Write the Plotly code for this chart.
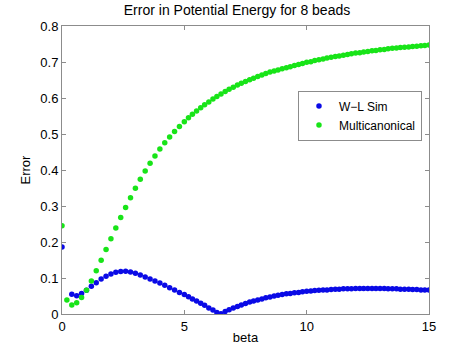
import plotly.graph_objects as go

beta = [0, 0.2, 0.4, 0.6, 0.8, 1.0, 1.2, 1.4, 1.6, 1.8, 2.0, 2.2, 2.4, 2.6, 2.8,
        3.0, 3.2, 3.4, 3.6, 3.8, 4.0, 4.2, 4.4, 4.6, 4.8, 5.0,
        5.17, 5.33, 5.5, 5.67, 5.83, 6.0, 6.17, 6.33, 6.5, 6.67, 6.83, 7.0,
        7.17, 7.33, 7.5, 7.67, 7.83, 8.0, 8.17, 8.33, 8.5, 8.67, 8.83, 9.0,
        9.17, 9.33, 9.5, 9.67, 9.83, 10.0, 10.17, 10.33, 10.5, 10.67, 10.83, 11.0,
        11.17, 11.33, 11.5, 11.67, 11.83, 12.0, 12.17, 12.33, 12.5, 12.67, 12.83, 13.0,
        13.17, 13.33, 13.5, 13.67, 13.83, 14.0, 14.17, 14.33, 14.5, 14.67, 14.83, 15.0]

wl_sim = [0.186, None, 0.055, 0.051, 0.057, 0.066, 0.077, 0.087, 0.097, 0.105, 0.111,
          0.116, 0.118, 0.119, 0.117, 0.113, 0.108, 0.103, 0.097, 0.092, 0.086,
          0.080, 0.073, 0.067, 0.060, 0.054,
          0.048, 0.042, 0.036, 0.030, 0.024, 0.017, 0.011, 0.004, 0.001, 0.007,
          0.012, 0.017, 0.021, 0.025, 0.029, 0.033, 0.036, 0.039, 0.042, 0.045,
          0.047, 0.050, 0.052, 0.054, 0.056, 0.057, 0.059, 0.060, 0.062, 0.063,
          0.064, 0.065, 0.066, 0.067, 0.067, 0.068, 0.069, 0.069, 0.070, 0.070,
          0.070, 0.071, 0.071, 0.071, 0.071, 0.071, 0.071, 0.071, 0.071, 0.070,
          0.070, 0.070, 0.069, 0.069, 0.069, 0.068, 0.068, 0.067, 0.067, 0.067]

multicanonical = [0.245, 0.039, 0.025, 0.031, 0.046, 0.066, 0.092, 0.120, 0.149, 0.179,
                  0.209, 0.239, 0.268, 0.296, 0.323, 0.349, 0.374, 0.397, 0.419, 0.439,
                  0.458, 0.476, 0.492, 0.507, 0.521, 0.534,
                  0.545, 0.555, 0.564, 0.573, 0.581, 0.589, 0.597, 0.604, 0.611, 0.618,
                  0.624, 0.630, 0.636, 0.641, 0.646, 0.651, 0.655, 0.660, 0.664, 0.668,
                  0.672, 0.675, 0.678, 0.681, 0.684, 0.687, 0.690, 0.693, 0.696, 0.699,
                  0.701, 0.704, 0.706, 0.708, 0.711, 0.713, 0.715, 0.717, 0.719, 0.721,
                  0.723, 0.725, 0.726, 0.728, 0.729, 0.731, 0.732, 0.734, 0.735, 0.737,
                  0.738, 0.739, 0.740, 0.741, 0.742, 0.743, 0.744, 0.745, 0.746, 0.747]

x_ticks = [0, 5, 10, 15]
y_ticks = [0, 0.1, 0.2, 0.3, 0.4, 0.5, 0.6, 0.7, 0.8]
y_tick_labels = ["0", "0.1", "0.2", "0.3", "0.4", "0.5", "0.6", "0.7", "0.8"]

font_family = "Liberation Sans, Arial, Helvetica, sans-serif"
axis_gray = "#8c8c8c"

fig = go.Figure()
fig.add_trace(go.Scatter(x=beta, y=wl_sim, mode="markers", name="W\u2212L Sim",
                         marker=dict(color="#0a0ae6", size=5.5)))
fig.add_trace(go.Scatter(x=beta, y=multicanonical, mode="markers", name="Multicanonical",
                         marker=dict(color="#18e418", size=5.5)))

fig.update_layout(
    width=474, height=355,
    margin=dict(l=62, r=45, t=26, b=39),
    paper_bgcolor="white", plot_bgcolor="white",
    font=dict(family=font_family, size=13, color="black"),
    title=dict(text="Error in Potential Energy for 8 beads", x=0.5, xanchor="center",
               y=0.972, yanchor="middle", font=dict(size=14, color="black")),
    showlegend=True,
    legend=dict(x=0.643, y=0.776, xanchor="left", yanchor="top",
                bordercolor=axis_gray, borderwidth=1, bgcolor="white",
                font=dict(size=12), tracegroupgap=0, itemwidth=30),
)
fig.update_xaxes(range=[0, 15], tickvals=x_ticks, ticks="inside", ticklen=4,
                 tickcolor=axis_gray, showline=True, linecolor=axis_gray, linewidth=1,
                 mirror="ticks", showgrid=False, zeroline=False,
                 title=dict(text="beta", standoff=0, font=dict(size=13)))
fig.update_yaxes(range=[0, 0.8], tickvals=y_ticks, ticktext=y_tick_labels, ticks="inside",
                 ticklen=4, tickcolor=axis_gray, showline=True, linecolor=axis_gray,
                 linewidth=1, mirror="ticks", showgrid=False, zeroline=False,
                 title=dict(text="Error", standoff=6, font=dict(size=13)))

fig.write_html("out.html", config={"displayModeBar": False},
               post_script="document.body.style.margin='0';")
